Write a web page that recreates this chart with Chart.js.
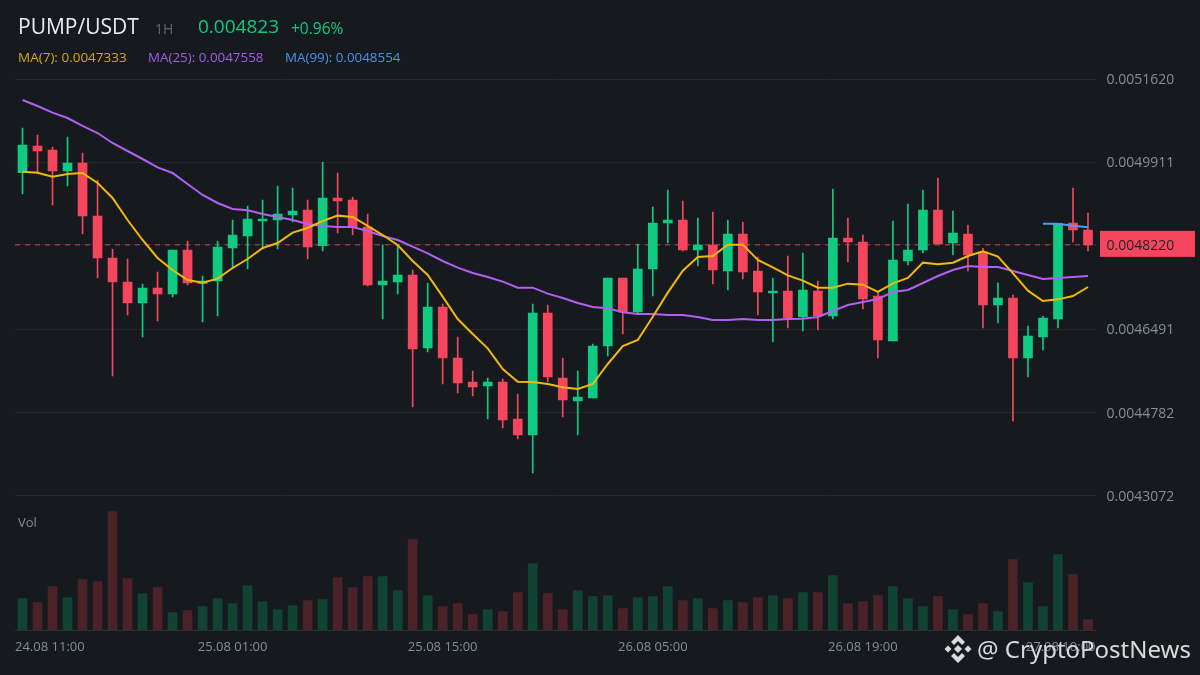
<!DOCTYPE html>
<html>
<head>
<meta charset="utf-8">
<script src="https://cdn.jsdelivr.net/npm/chart.js@4"></script>
<style>
  html, body { margin: 0; padding: 0; background: #161a1e; }
  #wrap { position: relative; width: 1200px; height: 675px; overflow: hidden; font-family: "Open Sans", "Noto Sans", sans-serif; }
  canvas { position: absolute; left: 0; top: 0; }
  .t { position: absolute; white-space: nowrap; line-height: 1; }
  svg { position: absolute; left: 944px; top: 635px; }
</style>
</head>
<body>
<div id="wrap">
  <canvas id="myChart" width="1200" height="675"></canvas>
  <span class="t" style="left:18px;top:16px;font-size:21px;color:#eaecef">PUMP/USDT</span>
  <span class="t" style="left:155px;top:22px;font-size:14px;color:#5e6673">1H</span>
  <span class="t" style="left:198px;top:17px;font-size:19px;color:#0ecb81">0.004823</span>
  <span class="t" style="left:291px;top:21px;font-size:15.5px;color:#0ecb81">+0.96%</span>
  <span class="t" style="left:18px;top:51px;font-size:13.5px;color:#d9a60f">MA(7): 0.0047333</span>
  <span class="t" style="left:148px;top:51px;font-size:13.4px;color:#a15fe0">MA(25): 0.0047558</span>
  <span class="t" style="left:285px;top:51px;font-size:13.4px;color:#4a94e8">MA(99): 0.0048554</span>
  <span class="t" style="left:18px;top:516px;font-size:13px;color:#848e9c">Vol</span>
  <svg width="28" height="28" viewBox="0 0 28 28" fill="#d8dadc">
    <path d="M14 0l7 7-3 3-4-4-4 4-3-3z"/>
    <path d="M14 28l7-7-3-3-4 4-4-4-3 3z"/>
    <path d="M4 10.5l3.5 3.5L4 17.500.500 14z"/>
    <path d="M24 10.5l3.500 3.500-3.500 3.500-3.500-3.500z"/>
    <path d="M14 10l4 4-4 4-4-4z"/>
  </svg>
  <span class="t" style="left:977px;top:637px;font-size:24px;color:#d8dadc;font-family:'Noto Sans'">@ CryptoPostNews</span>
</div>
<script>
// all candles, oldest first
const times = ['24.08 11:00','24.08 12:00','24.08 13:00','24.08 14:00','24.08 15:00','24.08 16:00','24.08 17:00','24.08 18:00','24.08 19:00','24.08 20:00','24.08 21:00','24.08 22:00','24.08 23:00','25.08 00:00',
  '25.08 01:00','25.08 02:00','25.08 03:00','25.08 04:00','25.08 05:00','25.08 06:00','25.08 07:00','25.08 08:00','25.08 09:00','25.08 10:00','25.08 11:00','25.08 12:00','25.08 13:00','25.08 14:00',
  '25.08 15:00','25.08 16:00','25.08 17:00','25.08 18:00','25.08 19:00','25.08 20:00','25.08 21:00','25.08 22:00','25.08 23:00','26.08 00:00','26.08 01:00','26.08 02:00','26.08 03:00','26.08 04:00',
  '26.08 05:00','26.08 06:00','26.08 07:00','26.08 08:00','26.08 09:00','26.08 10:00','26.08 11:00','26.08 12:00','26.08 13:00','26.08 14:00','26.08 15:00','26.08 16:00','26.08 17:00','26.08 18:00',
  '26.08 19:00','26.08 20:00','26.08 21:00','26.08 22:00','26.08 23:00','27.08 00:00','27.08 01:00','27.08 02:00','27.08 03:00','27.08 04:00','27.08 05:00','27.08 06:00','27.08 07:00','27.08 08:00',
  '27.08 09:00','27.08 10:00'];
const timeTicks = ['24.08 11:00','25.08 01:00','25.08 15:00','26.08 05:00','26.08 19:00','27.08 10:00'];

const opens = [.0049700,.0050247,.0050165,.0049734,.0049898,.0048812,.0047951,.0047459,.0047028,.0047336,.0047213,.0048115,.0047431,.0047479,.0048156,.0048402,.0048709,.0048730,.0048832,.0048935,.0048204,.0049181,.0049140,.0048586,.0047397,.0047459,
  .0047602,.0046106,.0046946,.0045901,.0045409,.0045327,.0045409,.0044650,.0044322,.0046823,.0045491,.0045019,.0045081,.0046147,.0047541,.0046844,.0047725,.0048668,.0048730,.0048115,.0048217,.0047684,.0048443,.0047684,
  .0047233,.0047274,.0046741,.0047274,.0046762,.0048361,.0048279,.0047172,.0046249,.0047889,.0048115,.0048935,.0048258,.0048443,.0048074,.0046987,.0047131,.0045901,.0046331,.0046700,.0048668,.0048525];
const closes = [.0050267,.0050144,.0049734,.0049898,.0048812,.0047951,.0047459,.0047028,.0047336,.0047213,.0048115,.0047438,.0047479,.0048176,.0048422,.0048750,.0048750,.0048853,.0048914,.0048176,.0049181,.0049119,.0048586,.0047397,.0047479,.0047602,
  .0046085,.0046946,.0045901,.0045388,.0045306,.0045409,.0044630,.0044322,.0046823,.0045511,.0045040,.0045101,.0046147,.0047541,.0046844,.0047725,.0048668,.0048730,.0048115,.0048217,.0047705,.0048443,.0047664,.0047254,
  .0047274,.0046721,.0047295,.0046762,.0048361,.0048279,.0047110,.0046270,.0047910,.0048115,.0048935,.0048238,.0048463,.0048012,.0046987,.0047131,.0045901,.0046352,.0046721,.0048661,.0048525,.0048220];
const highs = [.0050616,.0050472,.0050226,.0050431,.0050103,.0049550,.0048135,.0047930,.0047418,.0047664,.0048115,.0048299,.0047582,.0048299,.0048730,.0049017,.0049140,.0049427,.0049386,.0049140,.0049919,.0049693,.0049201,.0048853,.0048217,.0048197,
  .0047705,.0047438,.0047008,.0046331,.0045634,.0045491,.0045470,.0045163,.0047008,.0046987,.0045901,.0045634,.0046188,.0047541,.0047541,.0048238,.0048996,.0049345,.0049119,.0048771,.0048894,.0048730,.0048689,.0047971,
  .0047541,.0047992,.0048053,.0047479,.0049365,.0048771,.0048422,.0047254,.0048709,.0049058,.0049345,.0049591,.0048914,.0048627,.0048149,.0047438,.0047192,.0046557,.0046762,.0048661,.0049386,.0048873];
const lows = [.0049263,.0049700,.0049037,.0049427,.0048443,.0047541,.0045532,.0046782,.0046331,.0046659,.0047151,.0047397,.0046639,.0046762,.0047739,.0047725,.0048135,.0048135,.0048689,.0047930,.0048094,.0048463,.0048422,.0047377,.0046700,.0047213,
  .0044896,.0046024,.0045368,.0045183,.0045122,.0044650,.0044466,.0044240,.0043544,.0045409,.0044691,.0044322,.0045081,.0045942,.0046393,.0046803,.0047172,.0048258,.0048094,.0047787,.0047418,.0047295,.0047520,.0046782,
  .0046229,.0046516,.0046454,.0046475,.0046700,.0047869,.0046905,.0045901,.0046249,.0047807,.0048053,.0048238,.0048012,.0047684,.0046516,.0046618,.0044609,.0045511,.0046065,.0046516,.0048279,.0048094];

const ma7 = [.0049720,.0049700,.0049618,.0049673,.0049693,.0049488,.0049181,.0048730,.0048320,.0047951,.0047705,.0047500,.0047445,.0047527,.0047746,.0047930,.0048156,.0048258,.0048470,.0048566,.0048709,.0048819,.0048791,.0048607,.0048422,.0048217,
  .0047889,.0047602,.0047158,.0046700,.0046393,.0046099,.0045675,.0045416,.0045409,.0045368,.0045300,.0045265,.0045368,.0045778,.0046147,.0046270,.0046748,.0047240,.0047691,.0047971,.0047992,.0048224,.0048224,.0047910,
  .0047759,.0047595,.0047486,.0047343,.0047343,.0047425,.0047404,.0047254,.0047431,.0047541,.0047855,.0047821,.0047855,.0047992,.0048087,.0047978,.0047636,.0047281,.0047069,.0047103,.0047172,.0047356];
const ma25 = [.0051190,.0051067,.0050930,.0050820,.0050657,.0050513,.0050308,.0050144,.0049980,.0049809,.0049693,.0049468,.0049242,.0049078,.0048955,.0048928,.0048853,.0048791,.0048730,.0048648,.0048607,.0048586,.0048586,.0048504,.0048402,.0048320,
  .0048183,.0048046,.0047889,.0047753,.0047643,.0047561,.0047466,.0047343,.0047343,.0047220,.0047131,.0047028,.0046946,.0046919,.0046837,.0046803,.0046803,.0046782,.0046782,.0046741,.0046680,.0046680,.0046700,.0046680,.0046680,.0046700,
  .0046707,.0046741,.0046864,.0046987,.0047049,.0047110,.0047254,.0047295,.0047438,.0047582,.0047705,.0047787,.0047766,.0047766,.0047684,.0047602,.0047520,.0047541,.0047561,.0047582];
// MA(99) only shows for the last few candles
const ma99Tail = [.0048654,.0048654,.0048613,.0048579];

const volumes = [.390,.341,.540,.403,.627,.602,1.475,.640,.453,.528,.216,.241,.291,.390,.328,.552,.353,.253,.303,.366,.378,.652,.528,.665,.665,.490,
  1.126,.428,.291,.328,.191,.253,.228,.465,.827,.453,.253,.490,.415,.428,.266,.403,.415,.540,.366,.390,.266,.366,.341,.403,.428,.390,
  .465,.465,.677,.328,.353,.428,.540,.390,.291,.415,.253,.191,.328,.228,.877,.590,.291,.939,.690,.129];

const priceTicks = [0.0051620, 0.0049911, 0.0048220, 0.0046491, 0.0044782, 0.0043072];
const volTicks = [1.35];
const lastPrice = 0.0048220;

const green = '#0ecb81', red = '#f6465d';
const volGreen = '#114332', volRed = '#4c2229';
const up = opens.map((o, i) => closes[i] >= o);
const nulls = new Array(times.length - ma99Tail.length).fill(null);

// last price dashed line + red tag behind its tick label
const lastPricePlugin = {
  id: 'lastPrice',
  beforeDatasetsDraw(chart) {
    const c = chart.ctx, y = chart.scales.y.getPixelForValue(lastPrice), a = chart.chartArea;
    c.save();
    c.strokeStyle = 'rgba(246,70,93,0.8)';
    c.lineWidth = 1;
    c.setLineDash([5, 5]);
    c.beginPath();
    c.moveTo(a.left, y);
    c.lineTo(a.right, y);
    c.stroke();
    c.restore();
  },
  beforeDraw(chart) {
    const c = chart.ctx, y = chart.scales.y.getPixelForValue(lastPrice);
    c.fillStyle = red;
    c.fillRect(1100, y - 14, 95, 26);
    // first and last date labels get pushed inside the plot, like the original
    const x = chart.scales.x;
    x.getLabelItems().forEach(it => {
      if (it.label === timeTicks[0]) { it.options.textAlign = 'left'; it.options.translation[0] = x.left; }
      if (it.label === timeTicks[timeTicks.length - 1]) { it.options.textAlign = 'right'; it.options.translation[0] = x.right; }
    });
    chart.scales.y.getLabelItems().forEach(it => { it.options.translation[1] += 1; });
  }
};

new Chart(document.getElementById('myChart').getContext('2d'), {
  data: {
    labels: times,
    datasets: [
      { type: 'line', label: 'MA(25)', data: ma25, yAxisID: 'y', borderColor: '#b35ff0', borderWidth: 2, pointRadius: 0, order: 1 },
      { type: 'line', label: 'MA(7)', data: ma7, yAxisID: 'y', borderColor: '#f0b90b', borderWidth: 2, pointRadius: 0, order: 0 },
      { type: 'line', label: 'MA(99)', data: nulls.concat(ma99Tail), yAxisID: 'y', borderColor: '#4a9df0', borderWidth: 2, pointRadius: 0, order: 0 },
      { type: 'bar', label: 'Body', data: opens.map((o, i) => [o, closes[i]]), yAxisID: 'y', grouped: false, barThickness: 9,
        backgroundColor: up.map(u => u ? green : red), order: 2 },
      { type: 'bar', label: 'Wick', data: lows.map((l, i) => [l, highs[i]]), yAxisID: 'y', grouped: false, barThickness: 1,
        backgroundColor: up.map(u => u ? green : red), order: 3 },
      { type: 'bar', label: 'Vol', data: volumes, yAxisID: 'yVol', grouped: false, barThickness: 9,
        backgroundColor: up.map(u => u ? volGreen : volRed), order: 4 }
    ]
  },
  options: {
    responsive: false,
    animation: false,
    layout: { padding: { left: 15, top: 79, right: 0, bottom: 0 } },
    plugins: { legend: { display: false }, tooltip: { enabled: false } },
    scales: {
      x: {
        offset: true,
        grid: { display: false },
        border: { color: '#2b2f36', width: 1 },
        afterFit(s) { s.height = 45; s.paddingLeft = 0; s.paddingRight = 0; },
        ticks: {
          autoSkip: false, maxRotation: 0, color: '#848e9c', padding: 1,
          font: { family: 'Open Sans', size: 13 },
          callback(v) { const l = this.getLabelForValue(v); return timeTicks.includes(l) ? l : ''; }
        }
      },
      y: {
        position: 'right',
        min: 0.0040325, max: 0.0051620,
        afterBuildTicks(s) { s.ticks = priceTicks.map(value => ({ value })); },
        afterFit(s) { s.width = 104.5; },
        grid: { color: '#24272c', drawTicks: false },
        border: { display: false },
        ticks: {
          padding: 11, crossAlign: 'near',
          font: { family: 'Open Sans', size: 14 },
          color: c => c.tick && c.tick.value === lastPrice ? '#1e2329' : '#848e9c',
          callback: v => v.toFixed(7)
        }
      },
      yVol: {
        position: 'right',
        min: 0, max: 6.866,
        afterBuildTicks(s) { s.ticks = volTicks.map(value => ({ value })); },
        afterFit(s) { s.width = 0; },
        grid: { display: false, drawTicks: false },
        border: { display: false },
        ticks: {
          padding: 12, crossAlign: 'near', color: '#848e9c',
          font: { family: 'Open Sans', size: 12 },
          callback: v => v + 'B'
        }
      }
    }
  },
  plugins: [lastPricePlugin]
});
</script>
</body>
</html>
